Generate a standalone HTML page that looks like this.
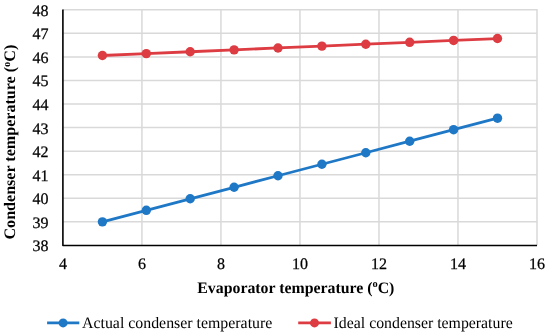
<!DOCTYPE html><html><head><meta charset="utf-8"><title>Chart</title><style>html,body{margin:0;padding:0;background:#fff;}svg{display:block;}text{font-family:"Liberation Serif","Times New Roman",serif;fill:#000;text-rendering:geometricPrecision;}.t{stroke:#000;stroke-width:0.25px;}</style></head><body>
<svg width="550" height="336" viewBox="0 0 550 336">
<rect width="550" height="336" fill="#fff"/>
<line x1="62.90" y1="221.84" x2="537.00" y2="221.84" stroke="#d9d9d9" stroke-width="1.5"/>
<line x1="62.90" y1="198.28" x2="537.00" y2="198.28" stroke="#d9d9d9" stroke-width="1.5"/>
<line x1="62.90" y1="174.72" x2="537.00" y2="174.72" stroke="#d9d9d9" stroke-width="1.5"/>
<line x1="62.90" y1="151.16" x2="537.00" y2="151.16" stroke="#d9d9d9" stroke-width="1.5"/>
<line x1="62.90" y1="127.60" x2="537.00" y2="127.60" stroke="#d9d9d9" stroke-width="1.5"/>
<line x1="62.90" y1="104.04" x2="537.00" y2="104.04" stroke="#d9d9d9" stroke-width="1.5"/>
<line x1="62.90" y1="80.48" x2="537.00" y2="80.48" stroke="#d9d9d9" stroke-width="1.5"/>
<line x1="62.90" y1="56.92" x2="537.00" y2="56.92" stroke="#d9d9d9" stroke-width="1.5"/>
<line x1="62.90" y1="33.36" x2="537.00" y2="33.36" stroke="#d9d9d9" stroke-width="1.5"/>
<line x1="62.90" y1="9.80" x2="537.00" y2="9.80" stroke="#d9d9d9" stroke-width="1.5"/>
<line x1="141.92" y1="9.05" x2="141.92" y2="245.40" stroke="#d9d9d9" stroke-width="1.5"/>
<line x1="220.93" y1="9.05" x2="220.93" y2="245.40" stroke="#d9d9d9" stroke-width="1.5"/>
<line x1="299.95" y1="9.05" x2="299.95" y2="245.40" stroke="#d9d9d9" stroke-width="1.5"/>
<line x1="378.97" y1="9.05" x2="378.97" y2="245.40" stroke="#d9d9d9" stroke-width="1.5"/>
<line x1="457.98" y1="9.05" x2="457.98" y2="245.40" stroke="#d9d9d9" stroke-width="1.5"/>
<line x1="537.00" y1="9.05" x2="537.00" y2="245.40" stroke="#d9d9d9" stroke-width="1.5"/>
<path d="M62.90,9.60 V245.55 H537.00" fill="none" stroke="#000" stroke-width="1.6" stroke-linejoin="round"/>
<polyline points="102.41,221.84 146.31,210.32 190.20,198.80 234.10,187.29 278.00,175.77 321.90,164.25 365.80,152.73 409.70,141.21 453.59,129.69 497.49,118.18" fill="none" stroke="#1f78c6" stroke-width="2.8" stroke-linejoin="round"/>
<circle cx="102.41" cy="221.84" r="4.7" fill="#1f78c6"/>
<circle cx="146.31" cy="210.32" r="4.7" fill="#1f78c6"/>
<circle cx="190.20" cy="198.80" r="4.7" fill="#1f78c6"/>
<circle cx="234.10" cy="187.29" r="4.7" fill="#1f78c6"/>
<circle cx="278.00" cy="175.77" r="4.7" fill="#1f78c6"/>
<circle cx="321.90" cy="164.25" r="4.7" fill="#1f78c6"/>
<circle cx="365.80" cy="152.73" r="4.7" fill="#1f78c6"/>
<circle cx="409.70" cy="141.21" r="4.7" fill="#1f78c6"/>
<circle cx="453.59" cy="129.69" r="4.7" fill="#1f78c6"/>
<circle cx="497.49" cy="118.18" r="4.7" fill="#1f78c6"/>
<polyline points="102.41,55.51 146.31,53.62 190.20,51.74 234.10,49.85 278.00,47.97 321.90,46.08 365.80,44.20 409.70,42.31 453.59,40.43 497.49,38.54" fill="none" stroke="#dc3c42" stroke-width="2.8" stroke-linejoin="round"/>
<circle cx="102.41" cy="55.51" r="4.7" fill="#dc3c42"/>
<circle cx="146.31" cy="53.62" r="4.7" fill="#dc3c42"/>
<circle cx="190.20" cy="51.74" r="4.7" fill="#dc3c42"/>
<circle cx="234.10" cy="49.85" r="4.7" fill="#dc3c42"/>
<circle cx="278.00" cy="47.97" r="4.7" fill="#dc3c42"/>
<circle cx="321.90" cy="46.08" r="4.7" fill="#dc3c42"/>
<circle cx="365.80" cy="44.20" r="4.7" fill="#dc3c42"/>
<circle cx="409.70" cy="42.31" r="4.7" fill="#dc3c42"/>
<circle cx="453.59" cy="40.43" r="4.7" fill="#dc3c42"/>
<circle cx="497.49" cy="38.54" r="4.7" fill="#dc3c42"/>
<text x="48.6" y="251.30" font-size="16" text-anchor="end" class="t">38</text>
<text x="48.6" y="227.74" font-size="16" text-anchor="end" class="t">39</text>
<text x="48.6" y="204.18" font-size="16" text-anchor="end" class="t">40</text>
<text x="48.6" y="180.62" font-size="16" text-anchor="end" class="t">41</text>
<text x="48.6" y="157.06" font-size="16" text-anchor="end" class="t">42</text>
<text x="48.6" y="133.50" font-size="16" text-anchor="end" class="t">43</text>
<text x="48.6" y="109.94" font-size="16" text-anchor="end" class="t">44</text>
<text x="48.6" y="86.38" font-size="16" text-anchor="end" class="t">45</text>
<text x="48.6" y="62.82" font-size="16" text-anchor="end" class="t">46</text>
<text x="48.6" y="39.26" font-size="16" text-anchor="end" class="t">47</text>
<text x="48.6" y="15.70" font-size="16" text-anchor="end" class="t">48</text>
<text x="62.90" y="269.3" font-size="16" text-anchor="middle" class="t">4</text>
<text x="141.92" y="269.3" font-size="16" text-anchor="middle" class="t">6</text>
<text x="220.93" y="269.3" font-size="16" text-anchor="middle" class="t">8</text>
<text x="299.95" y="269.3" font-size="16" text-anchor="middle" class="t">10</text>
<text x="378.97" y="269.3" font-size="16" text-anchor="middle" class="t">12</text>
<text x="457.98" y="269.3" font-size="16" text-anchor="middle" class="t">14</text>
<text x="537.00" y="269.3" font-size="16" text-anchor="middle" class="t">16</text>
<text x="197.3" y="292.6" font-size="16" font-weight="bold" textLength="197.1" lengthAdjust="spacingAndGlyphs">Evaporator temperature (<tspan font-size="10.5" dy="-5.3">o</tspan><tspan dy="5.3">C)</tspan></text>
<text transform="translate(15.3,239.5) rotate(-90)" font-size="16" font-weight="bold" textLength="194.8" lengthAdjust="spacingAndGlyphs">Condenser temperature (<tspan font-size="10.5" dy="-5.3">o</tspan><tspan dy="5.3">C)</tspan></text>
<line x1="47.1" y1="322.9" x2="79.3" y2="322.9" stroke="#1f78c6" stroke-width="2.8"/><circle cx="63.1" cy="322.9" r="4.5" fill="#1f78c6"/>
<text x="82.0" y="328.3" font-size="16" textLength="190.3" lengthAdjust="spacingAndGlyphs">Actual condenser temperature</text>
<line x1="298.2" y1="322.9" x2="330.9" y2="322.9" stroke="#dc3c42" stroke-width="2.8"/><circle cx="314.5" cy="322.9" r="4.5" fill="#dc3c42"/>
<text x="333.6" y="328.3" font-size="16" textLength="179.1" lengthAdjust="spacingAndGlyphs">Ideal condenser temperature</text>
</svg></body></html>
